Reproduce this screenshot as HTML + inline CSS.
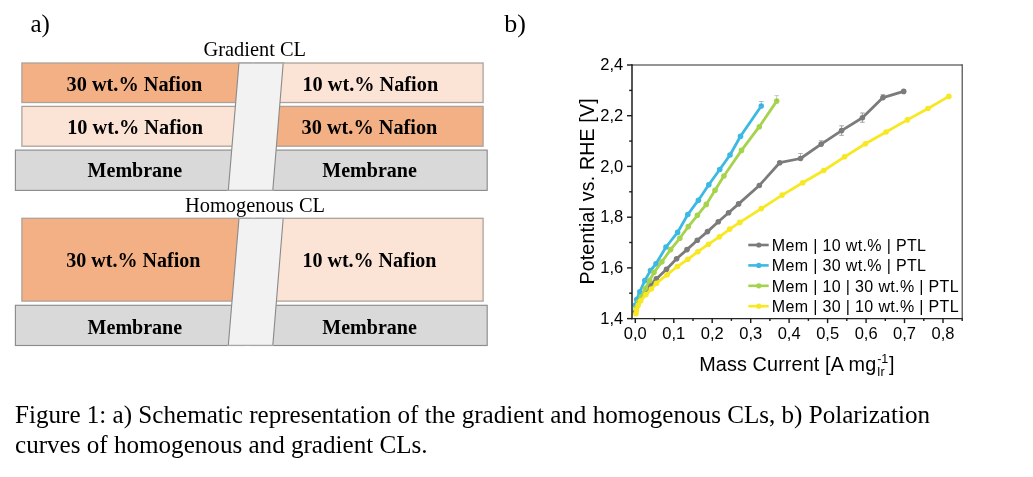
<!DOCTYPE html>
<html><head><meta charset="utf-8"><title>Figure 1</title>
<style>
html,body{margin:0;padding:0;background:#fff;}
body{width:1033px;height:477px;overflow:hidden;position:relative;}
svg{position:absolute;left:0;top:0;}
.cap{position:absolute;left:15px;font-family:"Liberation Serif","Times New Roman",serif;font-size:25.1px;color:#000;white-space:nowrap;line-height:29.6px;}
</style></head><body>
<svg width="1033" height="477" viewBox="0 0 1033 477">
<g font-family="Liberation Serif, Times New Roman, serif" fill="#000">
<text x="30.4" y="32.2" font-size="25">a)</text>
<text x="504.3" y="31.8" font-size="26">b)</text>
<text x="254.8" y="56" font-size="20.4" text-anchor="middle">Gradient CL</text>
<text x="255" y="212" font-size="20.4" text-anchor="middle">Homogenous CL</text>
</g>
<rect x="21.9" y="63" width="230" height="39.5" fill="#f3b084" stroke="#ada29b" stroke-width="1.3"/><rect x="255" y="63" width="228.1" height="39.5" fill="#fbe4d5" stroke="#ada29b" stroke-width="1.3"/><rect x="21.9" y="106.4" width="230" height="39.8" fill="#fbe4d5" stroke="#ada29b" stroke-width="1.3"/><rect x="255" y="106.4" width="228.1" height="39.8" fill="#f3b084" stroke="#ada29b" stroke-width="1.3"/><rect x="15.4" y="150.1" width="230" height="40.3" fill="#d9d9d9" stroke="#8c8c8c" stroke-width="1.15"/><rect x="250" y="150.1" width="237.2" height="40.3" fill="#d9d9d9" stroke="#8c8c8c" stroke-width="1.15"/><rect x="21.9" y="218.3" width="230" height="82.8" fill="#f3b084" stroke="#ada29b" stroke-width="1.3"/><rect x="255" y="218.3" width="228.1" height="82.8" fill="#fbe4d5" stroke="#ada29b" stroke-width="1.3"/><rect x="15.4" y="305.3" width="230" height="40.2" fill="#d9d9d9" stroke="#8c8c8c" stroke-width="1.15"/><rect x="250" y="305.3" width="237.2" height="40.2" fill="#d9d9d9" stroke="#8c8c8c" stroke-width="1.15"/><polygon points="239,63 283.2,63 272.8,190.4 228.3,190.4" fill="#f2f2f2" stroke="none"/><path d="M239 63L228.3 190.4M283.2 63L272.8 190.4" stroke="#8a8a8a" stroke-width="1.1"/><path d="M238 63H284.2M227.3 190.4H273.8" stroke="#a8a8a8" stroke-width="1.3"/><polygon points="239,218.3 283.2,218.3 272.8,345.4 228.3,345.4" fill="#f2f2f2" stroke="none"/><path d="M239 218.3L228.3 345.4M283.2 218.3L272.8 345.4" stroke="#8a8a8a" stroke-width="1.1"/><path d="M238 218.3H284.2M227.3 345.4H273.8" stroke="#a8a8a8" stroke-width="1.3"/>
<g font-family="Liberation Serif, Times New Roman, serif" font-weight="bold" font-size="20.3" fill="#000">
<text x="66.6" y="90.5">30 wt.% Nafion</text><text x="302.4" y="90.5">10 wt.% Nafion</text><text x="67.2" y="134.1">10 wt.% Nafion</text><text x="301.6" y="134.1">30 wt.% Nafion</text><g font-size="20.05"><text x="87.6" y="177.1">Membrane</text><text x="322.3" y="177.1">Membrane</text><text x="66.3" y="267.2">30 wt.% Nafion</text><text x="302.4" y="267.2">10 wt.% Nafion</text><text x="87.6" y="333.6">Membrane</text><text x="322.3" y="333.6">Membrane</text></g>
</g>
<g>
<polyline points="635.5,312.0 637.0,306.0 640.0,300.0 642.5,296.0 646.7,291.6 650.7,285.0 656.3,278.9 666.5,269.3 676.6,258.8 687.0,249.6 697.3,240.2 707.5,231.6 718.3,221.7 728.6,212.8 738.6,203.9 759.3,185.5 779.7,162.7 800.5,158.5 821.2,144.1 841.6,130.6 862.4,117.7 883.0,97.6 903.7,91.4" fill="none" stroke="#7b7b7b" stroke-width="2.8" stroke-linejoin="round"/>
<circle cx="635.5" cy="312.0" r="2.8" fill="#7b7b7b"/><circle cx="637.0" cy="306.0" r="2.8" fill="#7b7b7b"/><circle cx="640.0" cy="300.0" r="2.8" fill="#7b7b7b"/><circle cx="642.5" cy="296.0" r="2.8" fill="#7b7b7b"/><circle cx="646.7" cy="291.6" r="2.8" fill="#7b7b7b"/><circle cx="650.7" cy="285.0" r="2.8" fill="#7b7b7b"/><circle cx="656.3" cy="278.9" r="2.8" fill="#7b7b7b"/><circle cx="666.5" cy="269.3" r="2.8" fill="#7b7b7b"/><circle cx="676.6" cy="258.8" r="2.8" fill="#7b7b7b"/><circle cx="687.0" cy="249.6" r="2.8" fill="#7b7b7b"/><circle cx="697.3" cy="240.2" r="2.8" fill="#7b7b7b"/><circle cx="707.5" cy="231.6" r="2.8" fill="#7b7b7b"/><circle cx="718.3" cy="221.7" r="2.8" fill="#7b7b7b"/><circle cx="728.6" cy="212.8" r="2.8" fill="#7b7b7b"/><circle cx="738.6" cy="203.9" r="2.8" fill="#7b7b7b"/><circle cx="759.3" cy="185.5" r="2.8" fill="#7b7b7b"/><circle cx="779.7" cy="162.7" r="2.8" fill="#7b7b7b"/><circle cx="800.5" cy="158.5" r="2.8" fill="#7b7b7b"/><circle cx="821.2" cy="144.1" r="2.8" fill="#7b7b7b"/><circle cx="841.6" cy="130.6" r="2.8" fill="#7b7b7b"/><circle cx="862.4" cy="117.7" r="2.8" fill="#7b7b7b"/><circle cx="883.0" cy="97.6" r="2.8" fill="#7b7b7b"/><circle cx="903.7" cy="91.4" r="2.8" fill="#7b7b7b"/>
<polyline points="635.5,305.0 636.7,299.5 639.8,291.7 644.8,280.6 650.5,270.5 656.0,263.8 666.0,247.0 677.6,232.4 687.8,214.5 698.4,200.2 708.8,184.8 719.7,169.5 730.0,155.0 740.5,136.2 761.3,106.0" fill="none" stroke="#3cb8e4" stroke-width="2.8" stroke-linejoin="round"/>
<circle cx="635.5" cy="305.0" r="2.8" fill="#3cb8e4"/><circle cx="636.7" cy="299.5" r="2.8" fill="#3cb8e4"/><circle cx="639.8" cy="291.7" r="2.8" fill="#3cb8e4"/><circle cx="644.8" cy="280.6" r="2.8" fill="#3cb8e4"/><circle cx="650.5" cy="270.5" r="2.8" fill="#3cb8e4"/><circle cx="656.0" cy="263.8" r="2.8" fill="#3cb8e4"/><circle cx="666.0" cy="247.0" r="2.8" fill="#3cb8e4"/><circle cx="677.6" cy="232.4" r="2.8" fill="#3cb8e4"/><circle cx="687.8" cy="214.5" r="2.8" fill="#3cb8e4"/><circle cx="698.4" cy="200.2" r="2.8" fill="#3cb8e4"/><circle cx="708.8" cy="184.8" r="2.8" fill="#3cb8e4"/><circle cx="719.7" cy="169.5" r="2.8" fill="#3cb8e4"/><circle cx="730.0" cy="155.0" r="2.8" fill="#3cb8e4"/><circle cx="740.5" cy="136.2" r="2.8" fill="#3cb8e4"/><circle cx="761.3" cy="106.0" r="2.8" fill="#3cb8e4"/>
<polyline points="636.2,308.0 638.4,302.0 641.3,296.8 645.2,288.6 649.7,280.4 654.0,272.3 661.9,261.8 670.6,249.6 679.8,238.3 688.3,226.6 697.4,215.3 706.3,204.4 715.0,190.2 723.9,176.0 741.5,150.4 759.3,126.7 776.7,101.1" fill="none" stroke="#a6d34c" stroke-width="2.8" stroke-linejoin="round"/>
<circle cx="636.2" cy="308.0" r="2.8" fill="#a6d34c"/><circle cx="638.4" cy="302.0" r="2.8" fill="#a6d34c"/><circle cx="641.3" cy="296.8" r="2.8" fill="#a6d34c"/><circle cx="645.2" cy="288.6" r="2.8" fill="#a6d34c"/><circle cx="649.7" cy="280.4" r="2.8" fill="#a6d34c"/><circle cx="654.0" cy="272.3" r="2.8" fill="#a6d34c"/><circle cx="661.9" cy="261.8" r="2.8" fill="#a6d34c"/><circle cx="670.6" cy="249.6" r="2.8" fill="#a6d34c"/><circle cx="679.8" cy="238.3" r="2.8" fill="#a6d34c"/><circle cx="688.3" cy="226.6" r="2.8" fill="#a6d34c"/><circle cx="697.4" cy="215.3" r="2.8" fill="#a6d34c"/><circle cx="706.3" cy="204.4" r="2.8" fill="#a6d34c"/><circle cx="715.0" cy="190.2" r="2.8" fill="#a6d34c"/><circle cx="723.9" cy="176.0" r="2.8" fill="#a6d34c"/><circle cx="741.5" cy="150.4" r="2.8" fill="#a6d34c"/><circle cx="759.3" cy="126.7" r="2.8" fill="#a6d34c"/><circle cx="776.7" cy="101.1" r="2.8" fill="#a6d34c"/>
<polyline points="635.9,313.8 636.5,309.9 638.2,305.3 640.7,300.8 645.9,294.6 651.3,289.0 656.5,283.2 667.1,274.7 677.4,266.5 687.8,259.3 697.9,251.7 708.5,244.2 719.4,236.8 729.7,229.1 739.8,222.4 761.3,208.6 782.1,195.1 802.7,182.7 823.7,170.5 844.6,156.8 865.4,143.8 886.1,132.0 907.4,119.9 928.0,108.5 948.9,96.4" fill="none" stroke="#f7e823" stroke-width="2.8" stroke-linejoin="round"/>
<circle cx="635.9" cy="313.8" r="2.8" fill="#f7e823"/><circle cx="636.5" cy="309.9" r="2.8" fill="#f7e823"/><circle cx="638.2" cy="305.3" r="2.8" fill="#f7e823"/><circle cx="640.7" cy="300.8" r="2.8" fill="#f7e823"/><circle cx="645.9" cy="294.6" r="2.8" fill="#f7e823"/><circle cx="651.3" cy="289.0" r="2.8" fill="#f7e823"/><circle cx="656.5" cy="283.2" r="2.8" fill="#f7e823"/><circle cx="667.1" cy="274.7" r="2.8" fill="#f7e823"/><circle cx="677.4" cy="266.5" r="2.8" fill="#f7e823"/><circle cx="687.8" cy="259.3" r="2.8" fill="#f7e823"/><circle cx="697.9" cy="251.7" r="2.8" fill="#f7e823"/><circle cx="708.5" cy="244.2" r="2.8" fill="#f7e823"/><circle cx="719.4" cy="236.8" r="2.8" fill="#f7e823"/><circle cx="729.7" cy="229.1" r="2.8" fill="#f7e823"/><circle cx="739.8" cy="222.4" r="2.8" fill="#f7e823"/><circle cx="761.3" cy="208.6" r="2.8" fill="#f7e823"/><circle cx="782.1" cy="195.1" r="2.8" fill="#f7e823"/><circle cx="802.7" cy="182.7" r="2.8" fill="#f7e823"/><circle cx="823.7" cy="170.5" r="2.8" fill="#f7e823"/><circle cx="844.6" cy="156.8" r="2.8" fill="#f7e823"/><circle cx="865.4" cy="143.8" r="2.8" fill="#f7e823"/><circle cx="886.1" cy="132.0" r="2.8" fill="#f7e823"/><circle cx="907.4" cy="119.9" r="2.8" fill="#f7e823"/><circle cx="928.0" cy="108.5" r="2.8" fill="#f7e823"/><circle cx="948.9" cy="96.4" r="2.8" fill="#f7e823"/>
<path d="M761.3 101.5V106M759.0 101.5H763.5999999999999" stroke="#5a8fa8" stroke-width="0.9" fill="none" opacity="0.6"/><path d="M776.7 95.6V101M774.4000000000001 95.6H779.0" stroke="#8a9a70" stroke-width="0.9" fill="none" opacity="0.5"/><path d="M841.6 125.8V135.3M839.3000000000001 125.8H843.9M839.3000000000001 135.3H843.9" stroke="#7b7b7b" stroke-width="0.9" fill="none" opacity="0.75"/><path d="M862.4 113V122.3M860.1 113H864.6999999999999M860.1 122.3H864.6999999999999" stroke="#7b7b7b" stroke-width="0.9" fill="none" opacity="0.75"/><path d="M800.5 153.5V158.5M798.2 153.5H802.8" stroke="#7b7b7b" stroke-width="0.9" fill="none" opacity="0.6"/><path d="M883 94.5V98M880.7 94.5H885.3" stroke="#7b7b7b" stroke-width="0.9" fill="none" opacity="0.6"/><path d="M821.2 140.5V144M818.9000000000001 140.5H823.5" stroke="#7b7b7b" stroke-width="0.9" fill="none" opacity="0.5"/>
<path d="M632.0 65.0H962.2" stroke="#707070" stroke-width="1.4" fill="none"/><path d="M962.2 64.3V318.6" stroke="#3a3a3a" stroke-width="1.1" fill="none"/><path d="M632.0 64.3V319.20000000000005" stroke="#151515" stroke-width="1.45" fill="none"/><path d="M631.3 318.6H962.8000000000001" stroke="#252525" stroke-width="1.25" fill="none"/><path d="M627.0 318.6H632.0" stroke="#1a1a1a" stroke-width="1.4"/><path d="M629.2 293.2H632.0" stroke="#1a1a1a" stroke-width="1.4"/><path d="M627.0 267.9H632.0" stroke="#1a1a1a" stroke-width="1.4"/><path d="M629.2 242.5H632.0" stroke="#1a1a1a" stroke-width="1.4"/><path d="M627.0 217.2H632.0" stroke="#1a1a1a" stroke-width="1.4"/><path d="M629.2 191.8H632.0" stroke="#1a1a1a" stroke-width="1.4"/><path d="M627.0 166.4H632.0" stroke="#1a1a1a" stroke-width="1.4"/><path d="M629.2 141.1H632.0" stroke="#1a1a1a" stroke-width="1.4"/><path d="M627.0 115.7H632.0" stroke="#1a1a1a" stroke-width="1.4"/><path d="M629.2 90.4H632.0" stroke="#1a1a1a" stroke-width="1.4"/><path d="M627.0 65.0H632.0" stroke="#1a1a1a" stroke-width="1.4"/><path d="M635.3 318.6V323.1" stroke="#1a1a1a" stroke-width="1.4"/><path d="M654.5 318.6V320.90000000000003" stroke="#1a1a1a" stroke-width="1.4"/><path d="M673.8 318.6V323.1" stroke="#1a1a1a" stroke-width="1.4"/><path d="M693.0 318.6V320.90000000000003" stroke="#1a1a1a" stroke-width="1.4"/><path d="M712.2 318.6V323.1" stroke="#1a1a1a" stroke-width="1.4"/><path d="M731.4 318.6V320.90000000000003" stroke="#1a1a1a" stroke-width="1.4"/><path d="M750.7 318.6V323.1" stroke="#1a1a1a" stroke-width="1.4"/><path d="M769.9 318.6V320.90000000000003" stroke="#1a1a1a" stroke-width="1.4"/><path d="M789.1 318.6V323.1" stroke="#1a1a1a" stroke-width="1.4"/><path d="M808.4 318.6V320.90000000000003" stroke="#1a1a1a" stroke-width="1.4"/><path d="M827.6 318.6V323.1" stroke="#1a1a1a" stroke-width="1.4"/><path d="M846.8 318.6V320.90000000000003" stroke="#1a1a1a" stroke-width="1.4"/><path d="M866.1 318.6V323.1" stroke="#1a1a1a" stroke-width="1.4"/><path d="M885.3 318.6V320.90000000000003" stroke="#1a1a1a" stroke-width="1.4"/><path d="M904.5 318.6V323.1" stroke="#1a1a1a" stroke-width="1.4"/><path d="M923.8 318.6V320.90000000000003" stroke="#1a1a1a" stroke-width="1.4"/><path d="M943.0 318.6V323.1" stroke="#1a1a1a" stroke-width="1.4"/><path d="M962.2 318.6V320.90000000000003" stroke="#1a1a1a" stroke-width="1.4"/>
</g>
<g font-family="Liberation Sans, Arial, sans-serif" font-size="16.5" fill="#000">
<text x="623.2" y="323.7" text-anchor="end">1,4</text><text x="623.2" y="273.0" text-anchor="end">1,6</text><text x="623.2" y="222.3" text-anchor="end">1,8</text><text x="623.2" y="171.5" text-anchor="end">2,0</text><text x="623.2" y="120.8" text-anchor="end">2,2</text><text x="623.2" y="70.1" text-anchor="end">2,4</text><text x="635.3" y="338.7" text-anchor="middle">0,0</text><text x="673.8" y="338.7" text-anchor="middle">0,1</text><text x="712.2" y="338.7" text-anchor="middle">0,2</text><text x="750.7" y="338.7" text-anchor="middle">0,3</text><text x="789.1" y="338.7" text-anchor="middle">0,4</text><text x="827.6" y="338.7" text-anchor="middle">0,5</text><text x="866.1" y="338.7" text-anchor="middle">0,6</text><text x="904.5" y="338.7" text-anchor="middle">0,7</text><text x="943.0" y="338.7" text-anchor="middle">0,8</text>
</g>
<g font-family="Liberation Sans, Arial, sans-serif" font-size="16" fill="#000">
<path d="M748.3 245.0H768.7" stroke="#7b7b7b" stroke-width="2.6"/><circle cx="758.8" cy="245.0" r="2.6" fill="#7b7b7b"/><text x="771.8" y="251.0" letter-spacing="0.35">Mem | 10 wt.% | PTL</text><path d="M748.3 265.4H768.7" stroke="#3cb8e4" stroke-width="2.6"/><circle cx="758.8" cy="265.4" r="2.6" fill="#3cb8e4"/><text x="771.8" y="271.4" letter-spacing="0.35">Mem | 30 wt.% | PTL</text><path d="M748.3 285.8H768.7" stroke="#a6d34c" stroke-width="2.6"/><circle cx="758.8" cy="285.8" r="2.6" fill="#a6d34c"/><text x="771.8" y="291.8" letter-spacing="0.35">Mem | 10 | 30 wt.% | PTL</text><path d="M748.3 306.2H768.7" stroke="#f7e823" stroke-width="2.6"/><circle cx="758.8" cy="306.2" r="2.6" fill="#f7e823"/><text x="771.8" y="312.2" letter-spacing="0.35">Mem | 30 | 10 wt.% | PTL</text>
</g>
<g font-family="Liberation Sans, Arial, sans-serif" font-size="19.5" fill="#000">
<text transform="translate(593.5,284.5) rotate(-90)" letter-spacing="0.2">Potential vs. RHE [V]</text>
<text x="699.2" y="371.1" font-size="19.8" letter-spacing="0.13">Mass Current [A mg</text>
<text x="877" y="376.2" font-size="12.5">Ir</text>
<text x="877.2" y="362.5" font-size="12.5">-1</text>
<text x="888.9" y="371.1" font-size="19.8">]</text>
</g>
</svg>
<div class="cap" style="top:400px">Figure 1: a) Schematic representation of the gradient and homogenous CLs, b) Polarization</div>
<div class="cap" style="top:429.6px">curves of homogenous and gradient CLs.</div>
</body></html>
